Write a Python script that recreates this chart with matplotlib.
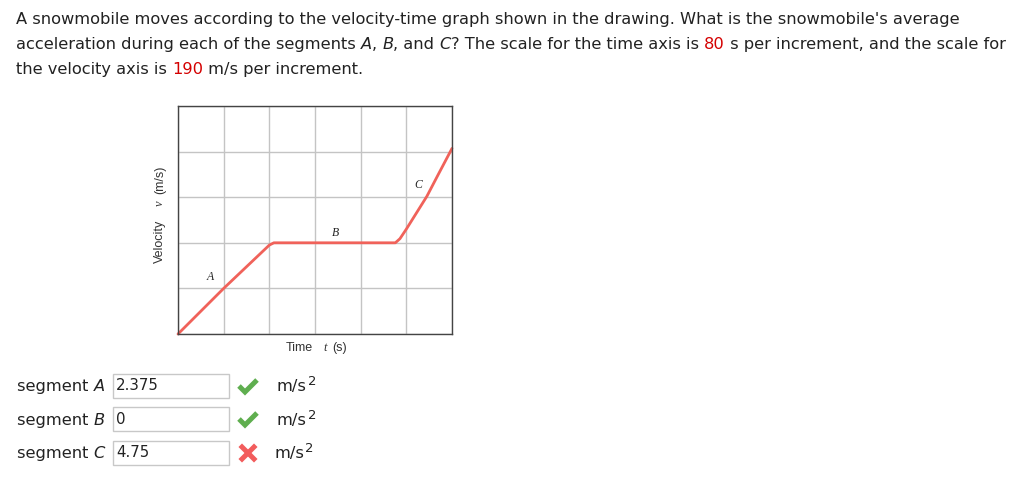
import numpy as np
import matplotlib
matplotlib.use("Agg")
import matplotlib.pyplot as plt
from matplotlib.patches import Rectangle
from matplotlib.lines import Line2D

W, H = 1024, 490

# question text, split into (text, style) pieces per line
line1 = [("A snowmobile moves according to the velocity-time graph shown in the drawing. "
          "What is the snowmobile's average", "n")]
line2 = [("acceleration during each of the segments ", "n"), ("A", "i"), (", ", "n"),
         ("B", "i"), (", and ", "n"), ("C", "i"),
         ("? The scale for the time axis is ", "n"), ("80", "r"),
         (" s per increment, and the scale for", "n")]
line3 = [("the velocity axis is ", "n"), ("190", "r"), (" m/s per increment.", "n")]

# velocity-time curve in grid units
t_pts = [0.0, 1.0, 2.0, 2.1, 4.76, 4.86, 5.0, 5.2, 5.45, 5.7, 6.0]
v_pts = [0.0, 1.0, 1.95, 2.0, 2.0, 2.09, 2.3, 2.62, 3.02, 3.5, 4.07]
seg_names = ["A", "B", "C"]
seg_x = [0.71, 3.45, 5.27]
seg_y = [1.26, 2.21, 3.27]

# answers
answers = ["2.375", "0", "4.75"]
correct = [True, True, False]

fig = plt.figure(figsize=(W / 100, H / 100), dpi=100)
fig.patch.set_facecolor("white")
renderer = fig.canvas.get_renderer()

TXT = "#222222"
RED = "#d40000"
FS = 11.7


def style(s):
    kw = dict(fontsize=FS, color=TXT, family="DejaVu Sans")
    if s == "i":
        kw["style"] = "italic"
    if s == "r":
        kw["color"] = RED
    return kw


def width(s, kw):
    a = fig.text(0, 0, s + "l", **kw)
    b = fig.text(0, 0, "l", **kw)
    w = a.get_window_extent(renderer).width - b.get_window_extent(renderer).width
    a.remove()
    b.remove()
    return w


def draw_run(x, y, pieces):
    for s, st in pieces:
        kw = style(st)
        fig.text(x / W, 1 - y / H, s, va="baseline", ha="left", **kw)
        x += width(s, kw)
    return x


def px_line(xs, ys, **kw):
    fig.add_artist(Line2D([x / W for x in xs], [1 - y / H for y in ys],
                          transform=fig.transFigure, **kw))


draw_run(16, 24, line1)
draw_run(16, 49, line2)
draw_run(16, 74, line3)

# the chart
ax = fig.add_axes([178 / W, 1 - 334 / H, 274 / W, 228 / H])
ax.plot(t_pts, v_pts, color="#f0625a", lw=2, solid_capstyle="round", clip_on=False)
ax.set_xlim(0, 6)
ax.set_ylim(0, 5)
ax.set_xticks(np.arange(0, 7))
ax.set_yticks(np.arange(0, 6))
ax.grid(True, color="#c4c4c4", lw=1)
ax.tick_params(length=0, labelbottom=False, labelleft=False)
for sp in ax.spines.values():
    sp.set_color("#444444")
    sp.set_linewidth(1)
for name, x, y in zip(seg_names, seg_x, seg_y):
    ax.text(x, y, name, family="Liberation Serif", style="italic", fontsize=8.5,
            color=TXT, ha="center", va="center")

lab = dict(family="Liberation Sans", fontsize=9, color="#333333")
ital = dict(family="Liberation Serif", style="italic", fontsize=9, color="#333333")
fig.text(160 / W, 1 - 241 / H, "Velocity", rotation=90, ha="center", va="center", **lab)
fig.text(160 / W, 1 - 203 / H, "v", rotation=90, ha="center", va="center", **ital)
fig.text(160 / W, 1 - 180 / H, "(m/s)", rotation=90, ha="center", va="center", **lab)
fig.text(299 / W, 1 - 348 / H, "Time", ha="center", va="center", **lab)
fig.text(325 / W, 1 - 348 / H, "t", ha="center", va="center", **ital)
fig.text(340 / W, 1 - 348 / H, "(s)", ha="center", va="center", **lab)

# answer rows
base_y = [391, 425, 458]
box_top = [374, 407, 441]
for i in range(3):
    draw_run(17, base_y[i], [("segment ", "n"), (seg_names[i], "i")])
    fig.patches.append(Rectangle((113 / W, 1 - (box_top[i] + 24) / H), 116 / W, 24 / H,
                                 transform=fig.transFigure, facecolor="white",
                                 edgecolor="#c8c8c8", lw=1))
    fig.text(116 / W, 1 - (base_y[i] - 1) / H, answers[i], fontsize=10.8, color=TXT,
             family="DejaVu Sans", va="baseline")
    cy = box_top[i] + 12
    if correct[i]:
        px_line([239, 245, 257], [cy, cy + 6, cy - 6], color="#5fae4f", lw=3.6,
                solid_joinstyle="miter", solid_capstyle="butt")
    else:
        px_line([242, 254], [cy - 6, cy + 6], color="#f25c5c", lw=3.6)
        px_line([242, 254], [cy + 6, cy - 6], color="#f25c5c", lw=3.6)
    ux = 277 if i < 2 else 274
    ex = draw_run(ux, base_y[i], [("m/s", "n")])
    fig.text((ex + 1) / W, 1 - (base_y[i] - 6) / H, "2", fontsize=9.5, color=TXT,
             family="DejaVu Sans", va="baseline")

fig.savefig("out.png", dpi=100, facecolor="white")
